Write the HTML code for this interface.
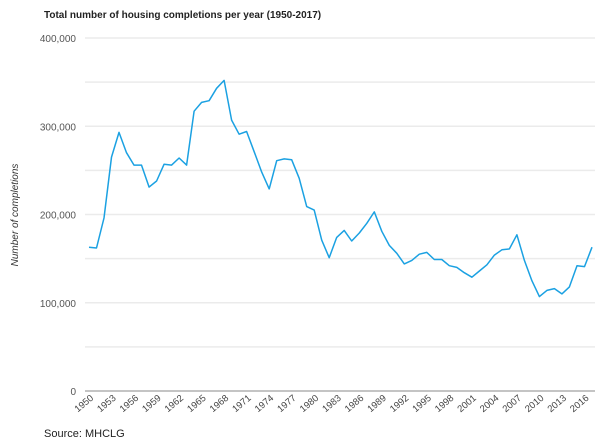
<!DOCTYPE html>
<html><head><meta charset="utf-8"><style>
html,body{margin:0;padding:0;background:#fff;width:600px;height:445px;overflow:hidden}
text{font-family:"Liberation Sans",Arial,sans-serif}
</style></head><body>
<svg id="s" width="600" height="445" xmlns="http://www.w3.org/2000/svg">
<text x="44" y="18" font-size="10" font-weight="bold" fill="#222">Total number of housing completions per year (1950-2017)</text>
<g id="grid"></g>
<text transform="translate(18,215) rotate(-90)" text-anchor="middle" font-size="10" font-style="italic" fill="#333">Number of completions</text>
<text x="44" y="437" font-size="11" fill="#222">Source: MHCLG</text>
</svg>
<script>
var s=document.getElementById('s'),ns='http://www.w3.org/2000/svg';
function el(t,a,txt){var e=document.createElementNS(ns,t);for(var k in a)e.setAttribute(k,a[k]);if(txt)e.textContent=txt;s.appendChild(e);return e;}
function Y(v){return 391-v*0.8825;}
for(var v=50;v<=400;v+=50){el('line',{x1:85,x2:595,y1:Y(v),y2:Y(v),stroke:'#ebebeb','stroke-width':1.5});}
el('line',{x1:85,x2:595,y1:391,y2:391,stroke:'#b0b0b0','stroke-width':1.5});
var labs={0:'0',100:'100,000',200:'200,000',300:'300,000',400:'400,000'};
for(var k in labs){el('text',{x:76,y:Y(+k)+4,'text-anchor':'end','font-size':10,fill:'#555'},labs[k]);}
var d=[163,162,196,265,293,270,256,256,231,238,257,256,264,256,317,327,329,343,352,307,291,294,271,248,229,261,263,262,241,209,205,171,151,174,182,170,179,190,203,181,165,156,144,148,155,157,149,149,142,140,134,129,136,143,154,160,161,177,148,125,107,114,116,110,118,142,141,163];
function X(i){return 89+i*7.507;}
var p='';for(var i=0;i<d.length;i++)p+=(i?'L':'M')+X(i).toFixed(1)+','+Y(d[i]).toFixed(1);
el('path',{d:p,fill:'none',stroke:'#1ba1e2','stroke-width':1.5,'stroke-linejoin':'round'});
for(var i=0;i<d.length;i+=3){el('text',{transform:'translate('+(X(i)+5)+',399) rotate(-40)','text-anchor':'end','font-size':9.5,fill:'#444'},String(1950+i));}
</script>
</body></html>
